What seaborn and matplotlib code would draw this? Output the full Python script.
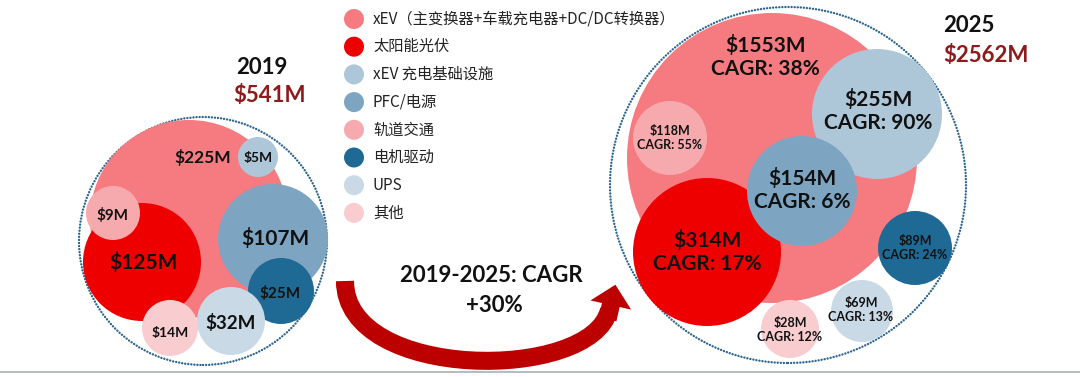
import numpy as np
import pandas as pd
import matplotlib
matplotlib.use("Agg")
import matplotlib.pyplot as plt
from matplotlib.patches import FancyArrowPatch, PathPatch
from matplotlib.path import Path
import seaborn as sns

# ---------------- data ----------------
categories = ["xEV（主变换器+车载充电器+DC/DC转换器）", "太阳能光伏", "xEV 充电基础设施",
              "PFC/电源", "轨道交通", "电机驱动", "UPS", "其他"]
values_2019 = [225, 125, 5, 107, 9, 25, 32, 14]
values_2025 = [1553, 314, 255, 154, 118, 89, 69, 28]
cagr_2025 = [38, 17, 90, 6, 55, 24, 13, 12]
total_2019 = 541
total_2025 = 2562
total_cagr = 30
years = ["2019", "2025"]

# ---------------- style / layout ----------------
colors = ["#F67B80", "#EF0000", "#ADC7D9", "#7DA5C2", "#F6AAAE", "#1E6A94", "#C9DAE6", "#F9CDD0"]
palette = dict(zip(categories, colors))

# bubble layout (pixel space)
pos_2019 = [(189, 219), (142, 262), (258, 157), (273, 239), (113, 213), (281, 291), (231, 321), (170, 328)]
rad_2019 = [99, 59, 20, 55, 27, 33, 34, 28]
lab_2019 = [(203, 158), (143, 262), (258, 158), (275, 238), (112, 215), (280, 293), (230, 323), (170, 333)]
fs_2019 = [12.5, 15, 10, 15, 11, 11, 13.5, 10]

pos_2025 = [(772, 158), (707, 252), (877, 114), (802, 191), (670, 138), (915, 248), (862, 311), (790, 329)]
rad_2025 = [145, 74, 65, 55, 37, 37, 31, 29]
lab_2025 = [(765, 57), (707, 252), (878, 111), (802, 190), (670, 138), (915, 248), (861, 310), (790, 330)]
fs_2025 = [15, 15, 15, 15, 9, 9, 9, 9]

outer = [((203, 241), 124), ((788, 185), 178)]
legend_x, legend_y0, legend_dy, legend_r = 354, 19, 27.7, 10

W, H, DPI = 1080, 377, 100
PX2PT = 72 / DPI

def area(r):
    return (2 * r * PX2PT) ** 2

sns.set_theme(style="white")
plt.rcParams["font.family"] = ["Lato", "Noto Sans CJK SC", "DejaVu Sans"]

fig = plt.figure(figsize=(W / DPI, H / DPI), dpi=DPI)
ax = fig.add_axes([0, 0, 1, 1])
ax.set_xlim(0, W)
ax.set_ylim(H, 0)
ax.axis("off")

# outer dotted circles
df_outer = pd.DataFrame({"x": [p[0][0] for p in outer], "y": [p[0][1] for p in outer], "year": years})
sns.scatterplot(data=df_outer, x="x", y="y", s=[area(o[1]) for o in outer], facecolors="none",
                edgecolor="#2C6590", linewidth=1.7, linestyle=(0, (0.05, 1.25)), legend=False,
                ax=ax, zorder=1)
for c in ax.collections:
    c.set_capstyle("round")
    c.set_facecolor("none")

# bubbles
df = pd.DataFrame({
    "cat": categories * 2,
    "value": values_2019 + values_2025,
    "x": [p[0] for p in pos_2019] + [p[0] for p in pos_2025],
    "y": [p[1] for p in pos_2019] + [p[1] for p in pos_2025],
})
sizes = [area(r) for r in rad_2019 + rad_2025]
sns.scatterplot(data=df, x="x", y="y", hue="cat", palette=palette, s=sizes, linewidth=0,
                legend=False, ax=ax, zorder=2)

# bubble labels
for v, (lx, ly), fs in zip(values_2019, lab_2019, fs_2019):
    ax.text(lx, ly, f"${v}M", ha="center", va="center", fontsize=fs, fontweight="bold",
            color="#111111", zorder=5)
for v, g, (lx, ly), fs in zip(values_2025, cagr_2025, lab_2025, fs_2025):
    ax.text(lx, ly, f"${v}M\nCAGR: {g}%", ha="center", va="center", fontsize=fs,
            fontweight="bold", color="#111111", linespacing=1.2, zorder=5)

# year titles
ax.text(236, 68, years[0], ha="left", va="center", fontsize=16, fontweight="bold", color="#111111")
ax.text(233, 95, f"${total_2019}M", ha="left", va="center", fontsize=16, fontweight="bold", color="#8E1B1B")
ax.text(943, 25, years[1], ha="left", va="center", fontsize=16, fontweight="bold", color="#111111")
ax.text(943, 56, f"${total_2025}M", ha="left", va="center", fontsize=16, fontweight="bold", color="#8E1B1B")

# legend
df_leg = pd.DataFrame({"cat": categories,
                       "x": [legend_x] * len(categories),
                       "y": [legend_y0 + i * legend_dy for i in range(len(categories))]})
sns.scatterplot(data=df_leg, x="x", y="y", hue="cat", palette=palette, s=area(legend_r),
                linewidth=0, legend=False, ax=ax, zorder=3)
for i, cat in enumerate(categories):
    ax.text(legend_x + 19, legend_y0 + i * legend_dy, cat, ha="left", va="center", fontsize=11,
            family=["Noto Sans CJK SC", "DejaVu Sans"], color="#222222")

# growth arrow: curved shaft + head
arrow_color = "#BC0000"
shaft_path = Path([(345, 281), (345, 382), (592, 382), (609, 310)],
                  [Path.MOVETO, Path.CURVE4, Path.CURVE4, Path.CURVE4])
ax.add_patch(PathPatch(shaft_path, facecolor="none", edgecolor=arrow_color, linewidth=13,
                       capstyle="butt", zorder=4))
ax.add_patch(FancyArrowPatch((607, 322), (616, 282),
                             arrowstyle="simple,head_length=15,head_width=30,tail_width=13",
                             color=arrow_color, linewidth=0, zorder=4))
ax.text(491, 275, f"{years[0]}-{years[1]}: CAGR", ha="center", va="center", fontsize=16,
        fontweight="bold", color="#111111")
ax.text(494, 306, f"+{total_cagr}%", ha="center", va="center", fontsize=16,
        fontweight="bold", color="#111111")

# bottom rule
ax.axhline(372, color="#B4BBC2", linewidth=1.4)

fig.savefig("out.png", dpi=DPI)
